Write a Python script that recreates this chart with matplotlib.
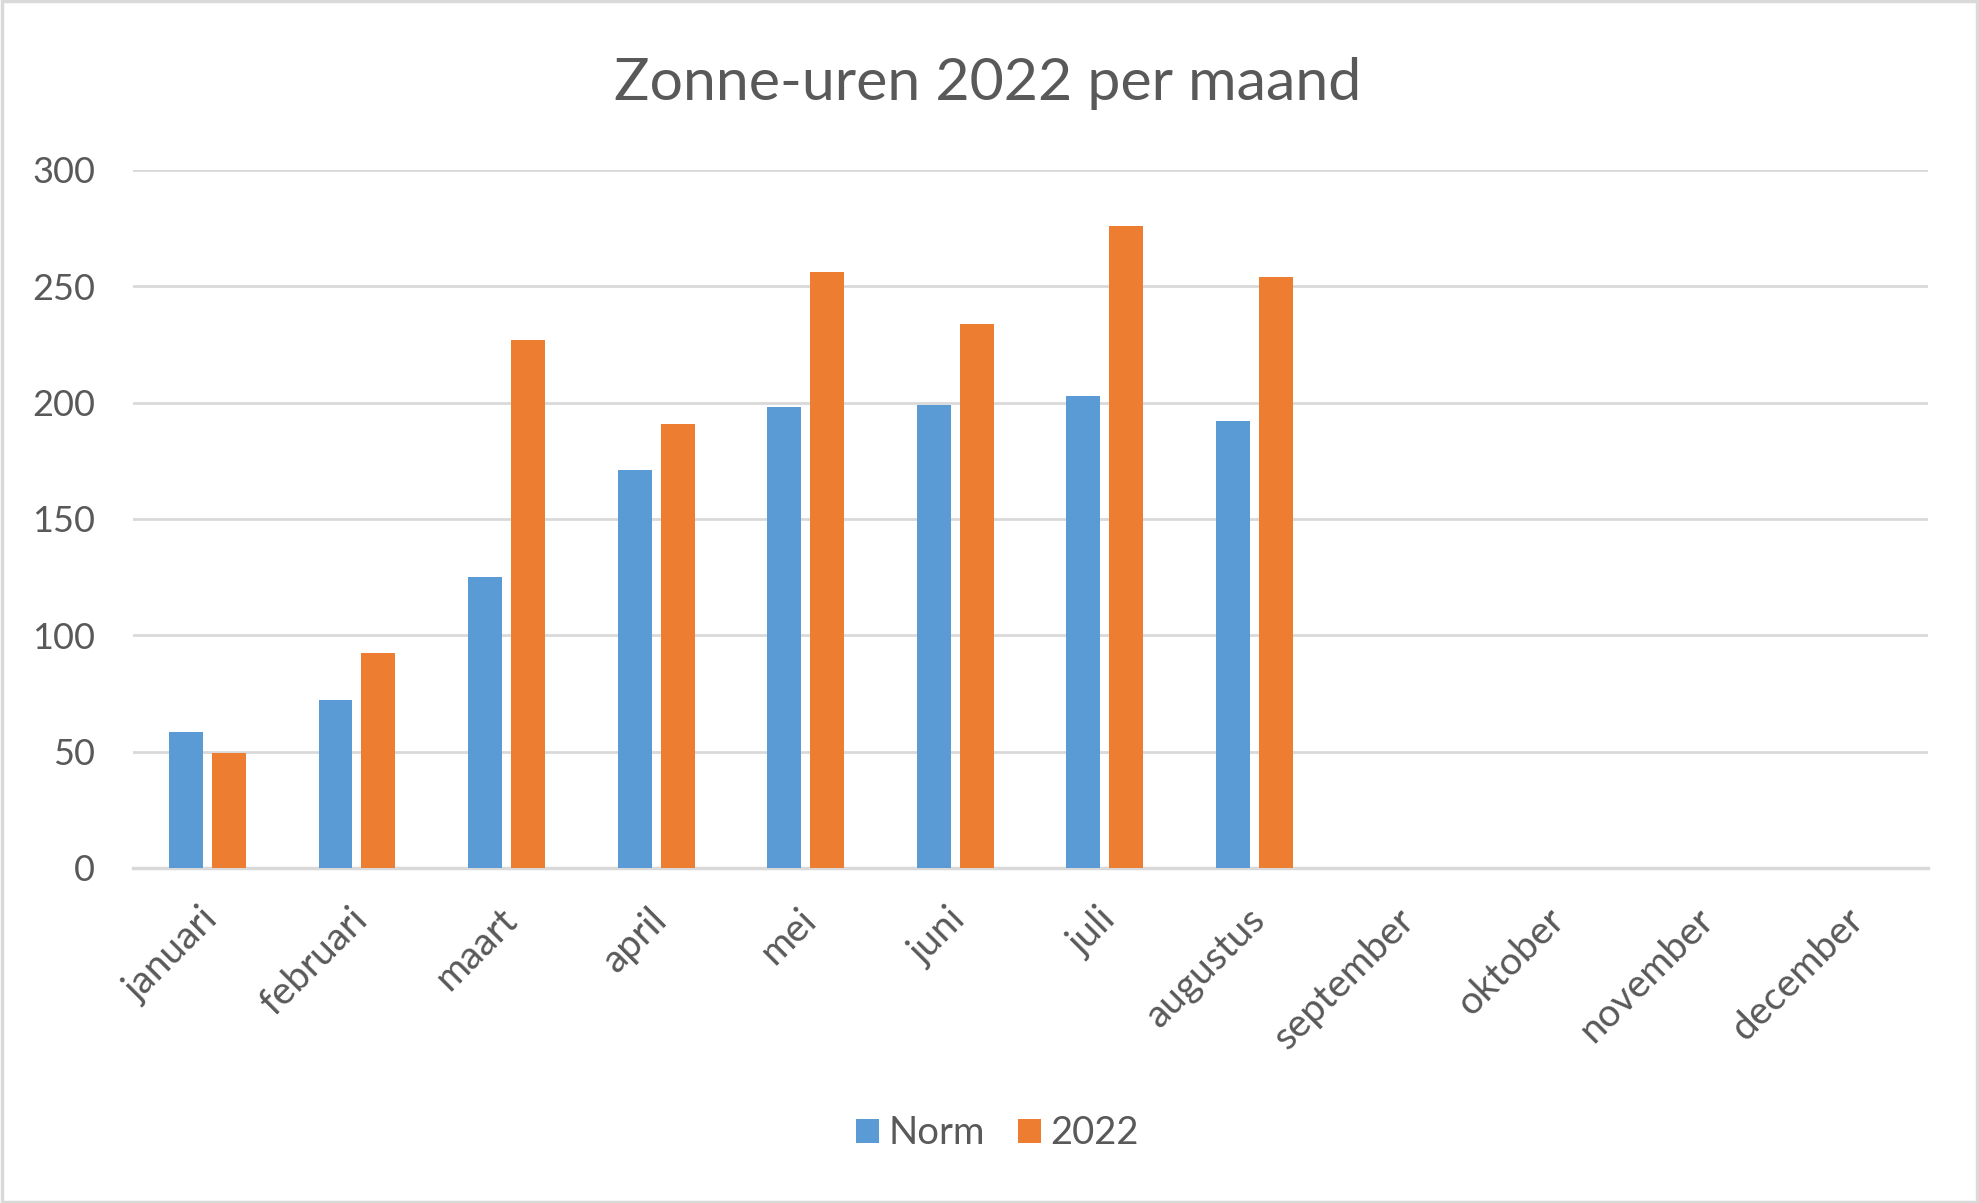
import matplotlib
matplotlib.use('Agg')
import matplotlib.pyplot as plt
import matplotlib.transforms as mtrans
import numpy as np
from matplotlib.patches import Rectangle

maanden = ['januari', 'februari', 'maart', 'april', 'mei', 'juni', 'juli',
           'augustus', 'september', 'oktober', 'november', 'december']
norm = [58.5, 72, 125, 171, 198, 199, 203, 192, None, None, None, None]
jaar_2022 = [49.5, 92.5, 227, 191, 256, 234, 276, 254, None, None, None, None]

plt.rcParams['font.family'] = ['Lato', 'DejaVu Sans']
tekst = '#595959'
grijs = '#D9D9D9'

fig = plt.figure(figsize=(19.79, 12.03), dpi=100)
ax = fig.add_axes([0.067, 0.2785, 0.907, 0.5802])

x = np.arange(len(maanden))
n = np.array([np.nan if v is None else v for v in norm], dtype=float)
j = np.array([np.nan if v is None else v for v in jaar_2022], dtype=float)
bw = 0.227
ax.bar(x - 0.1435, n, width=bw, color='#5B9BD5', label='Norm', zorder=3)
ax.bar(x + 0.1435, j, width=bw, color='#ED7D31', label='2022', zorder=3)

ax.set_xlim(-0.5, 11.5)
ax.set_ylim(0, 300)
ax.set_yticks(range(0, 301, 50))
ax.yaxis.grid(True, color=grijs, linewidth=2, zorder=0)
ax.set_axisbelow(True)
for s in ['top', 'right', 'left']:
    ax.spines[s].set_visible(False)
ax.spines['bottom'].set_color(grijs)
ax.spines['bottom'].set_linewidth(2.5)
ax.tick_params(axis='both', length=0, labelcolor=tekst)
ax.tick_params(axis='y', pad=27, labelsize=26)
ax.set_xticks(x)
ax.set_xticklabels(maanden, rotation=45, ha='right', va='top',
                   rotation_mode='anchor')
ax.tick_params(axis='x', pad=24, labelsize=28)
schuif = mtrans.ScaledTranslation(-8 / 100, 0, fig.dpi_scale_trans)
for lbl in ax.get_xticklabels():
    lbl.set_transform(lbl.get_transform() + schuif)

fig.text(0.499, 0.931, 'Zonne-uren 2022 per maand', ha='center', va='center',
         fontsize=42.5, color=tekst)

leg = fig.legend(loc='center', bbox_to_anchor=(0.504, 0.058), ncol=2,
                 frameon=False, fontsize=27.5, handlelength=0.6, handleheight=0.6,
                 handletextpad=0.26, columnspacing=0.86)
for t in leg.get_texts():
    t.set_color(tekst)

fig.patches.append(Rectangle((0.001, 0.001), 0.998, 0.998, transform=fig.transFigure,
                             fill=False, edgecolor=grijs, linewidth=2.5))

fig.savefig('out.png', dpi=100, facecolor='white')
